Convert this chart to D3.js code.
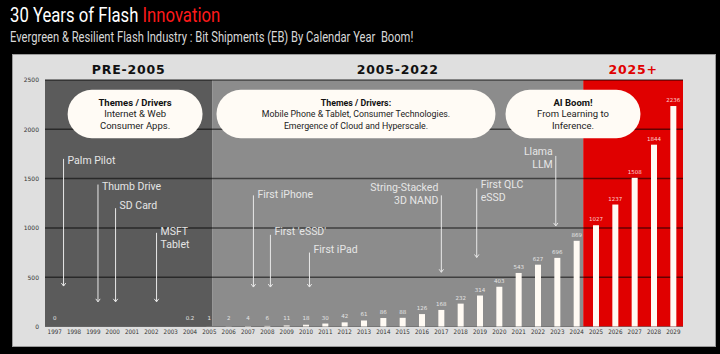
<!DOCTYPE html>
<html>
<head>
<meta charset="utf-8">
<script src="https://cdn.jsdelivr.net/npm/d3@7"></script>
<style>
  body { margin: 0; background: #000; }
  svg { display: block; }
</style>
</head>
<body>
<div id="chart-area"></div>
<script>
// data
var years = d3.range(1997, 2030).map(String);
var shipments = [0, null, null, null, null, null, null, 0.2, 1, 2, 4, 6, 11, 18, 30, 42, 61, 86, 88,
  126, 168, 232, 314, 403, 543, 627, 696, 869, 1027, 1237, 1508, 1844, 2236];
var yTicks = [0, 500, 1000, 1500, 2000, 2500];

// eras: label, start year, end year (fractional years)
var eraNames = ["PRE-2005", "2005-2022", "2025+"];
var eraStart = [1996.5, 2005.16, 2024.34];
var eraEnd = [2005.16, 2024.34, 2029.5];
var eraFill = ["#5b5b5b", "#8c8c8c", "#e00000"];

// theme bubbles
var bubbleTitles = ["Themes / Drivers", "Themes / Drivers:", "AI Boom!"];
var bubbleLines = [
  ["Internet & Web", "Consumer Apps."],
  ["Mobile Phone & Tablet, Consumer Technologies.", "Emergence of Cloud and Hyperscale."],
  ["From Learning to", "Inference."]
];
var bubbleFrom = [1997.67, 2005.37, 2020.32];
var bubbleTo = [2004.65, 2019.8, 2027.3];

// milestone annotations: text, year of the arrow, top value, arrow tip value, label value, side
var noteText = [["Palm Pilot"], ["Thumb Drive"], ["SD Card"], ["MSFT", "Tablet"], ["First iPhone"],
  ["First 'eSSD'"], ["First iPad"], ["String-Stacked", "3D NAND"], ["First QLC", "eSSD"], ["Llama", "LLM"]];
var noteYear = [1997.46, 1999.24, 2000.15, 2002.27, 2007.28, 2008.16, 2010.18, 2017.0, 2018.83, 2022.92];
var noteTop = [1700, 1440, 1200, 950, 1330, 930, 750, 1330, 1400, 1730];
var noteTip = [410, 250, 250, 250, 400, 400, 400, 550, 700, 1020];
var noteLabel = [1690, 1430, 1230, 970, 1340, 970, 790, 1410, 1450, 1780];
var noteSide = ["r", "r", "r", "r", "r", "r", "r", "l", "r", "l"];

var W = 720, H = 354;
var svg = d3.select("#chart-area").append("svg")
    .attr("width", W)
    .attr("height", H);

svg.append("rect").attr("width", W).attr("height", H).attr("fill", "#000");

// titles (squeezed a bit to get the narrow look of the original font)
var title = svg.append("text")
    .attr("transform", "translate(10,22) scale(0.795,1)")
    .attr("font-family", "Roboto, sans-serif")
    .attr("font-size", 21)
    .attr("fill", "#fff");
title.append("tspan").text("30 Years of Flash ");
title.append("tspan").attr("fill", "#ff1a1a").text("Innovation");

svg.append("text")
    .attr("transform", "translate(10,42) scale(0.8,1)")
    .attr("font-family", "Roboto, sans-serif")
    .attr("font-size", 14)
    .attr("fill", "#d8d8d8")
    .style("white-space", "pre")
    .text("Evergreen & Resilient Flash Industry : Bit Shipments (EB) By Calendar Year  Boom!");

// light panel
svg.append("rect")
    .attr("x", 12.5).attr("y", 54.5)
    .attr("width", 703).attr("height", 292)
    .attr("fill", "#dfdfdf")
    .attr("stroke", "#9a9a9a");

var plotLeft = 45, plotRight = 683, plotTop = 80, plotBottom = 326.5;

var x = d3.scaleBand()
    .domain(years)
    .range([plotLeft, plotRight])
    .paddingInner(0.69)
    .paddingOuter(0.345);

var step = (plotRight - plotLeft) / years.length;
var xYear = d3.scaleLinear()
    .domain([1997, 2029])
    .range([plotLeft + step / 2, plotRight - step / 2]);

var y = d3.scaleLinear()
    .domain([0, 2500])
    .range([plotBottom, plotTop]);

// era backgrounds
eraNames.forEach((name, i) => {
    var x0 = Math.max(plotLeft, xYear(eraStart[i]));
    var x1 = Math.min(plotRight, xYear(eraEnd[i]));
    svg.append("rect")
        .attr("x", x0).attr("y", plotTop)
        .attr("width", x1 - x0).attr("height", plotBottom - plotTop)
        .attr("fill", eraFill[i]);
    svg.append("text")
        .attr("x", (x0 + x1) / 2).attr("y", 74)
        .attr("text-anchor", "middle")
        .attr("font-family", "DejaVu Sans, sans-serif")
        .attr("font-weight", "bold")
        .attr("font-size", 12.5)
        .attr("letter-spacing", 0.8)
        .attr("fill", i == 2 ? "#e00000" : "#111")
        .text(name);
});

// grid lines
svg.selectAll(".grid")
    .data(yTicks.slice(1))
    .enter()
    .append("line")
    .attr("x1", plotLeft).attr("x2", plotRight)
    .attr("y1", d => y(d)).attr("y2", d => y(d))
    .attr("stroke", "#000")
    .attr("stroke-opacity", 0.55)
    .attr("stroke-width", 1.5);

svg.append("line")
    .attr("x1", plotLeft).attr("x2", plotRight)
    .attr("y1", plotBottom).attr("y2", plotBottom)
    .attr("stroke", "#000").attr("stroke-opacity", 0.35);

// axes
var yAxis = svg.append("g")
    .attr("transform", `translate(${plotLeft - 6},0)`)
    .call(d3.axisLeft(y).tickValues(yTicks).tickFormat(d3.format("d")).tickSize(0).tickPadding(0));
yAxis.select(".domain").remove();
yAxis.selectAll("text")
    .attr("font-family", "DejaVu Sans, sans-serif")
    .attr("font-size", 6)
    .attr("fill", "#333");

var xAxis = svg.append("g")
    .attr("transform", `translate(0,${plotBottom + 3})`)
    .call(d3.axisBottom(x).tickSize(0).tickPadding(0));
xAxis.select(".domain").remove();
xAxis.selectAll("text")
    .attr("font-family", "DejaVu Sans Condensed, sans-serif")
    .attr("font-size", 6.2)
    .attr("fill", "#333");

// bars
var rows = years.map((yr, i) => ({ year: yr, value: shipments[i] }))
    .filter(d => d.value != null);

svg.selectAll(".bar")
    .data(rows)
    .enter()
    .append("rect")
    .attr("x", d => x(d.year))
    .attr("y", d => y(d.value))
    .attr("width", x.bandwidth())
    .attr("height", d => plotBottom - y(d.value))
    .attr("fill", "#fffaf3");

svg.selectAll(".val")
    .data(rows)
    .enter()
    .append("text")
    .attr("x", d => x(d.year) + x.bandwidth() / 2)
    .attr("y", d => Math.min(y(d.value) - 4, plotBottom - 7))
    .attr("text-anchor", "middle")
    .attr("font-family", "DejaVu Sans, sans-serif")
    .attr("font-size", 5.5)
    .attr("fill", d => +d.year >= 2025 ? "#ffd0d0" : "#e4e4e4")
    .text(d => d.value);

// bubbles
bubbleTitles.forEach((t, i) => {
    var x0 = xYear(bubbleFrom[i]), x1 = xYear(bubbleTo[i]);
    var y0 = y(2400), y1 = y(1910);
    var cx = (x0 + x1) / 2;
    svg.append("rect")
        .attr("x", x0).attr("y", y0)
        .attr("width", x1 - x0).attr("height", y1 - y0)
        .attr("rx", (y1 - y0) / 2)
        .attr("fill", "#fffbf5");
    var fs = i == 1 ? 8.8 : 9.5;
    svg.append("text")
        .attr("x", cx).attr("y", y0 + 16)
        .attr("text-anchor", "middle")
        .attr("font-family", "Roboto, sans-serif")
        .attr("font-weight", "bold")
        .attr("font-size", fs)
        .attr("fill", "#111")
        .text(t);
    bubbleLines[i].forEach((ln, j) => {
        svg.append("text")
            .attr("x", cx).attr("y", y0 + 16 + 11.5 * (j + 1))
            .attr("text-anchor", "middle")
            .attr("font-family", "Roboto, sans-serif")
            .attr("font-size", fs)
            .attr("fill", "#222")
            .text(ln);
    });
});

// milestone arrows
noteText.forEach((lines, i) => {
    var lx = xYear(noteYear[i]);
    svg.append("line")
        .attr("x1", lx).attr("x2", lx)
        .attr("y1", y(noteTop[i])).attr("y2", y(noteTip[i]))
        .attr("stroke", "#e8e8e8")
        .attr("stroke-width", 1);
    var ty = y(noteTip[i]);
    svg.append("path")
        .attr("d", `M${lx - 2.2},${ty - 3}L${lx},${ty}L${lx + 2.2},${ty - 3}`)
        .attr("fill", "none")
        .attr("stroke", "#e8e8e8")
        .attr("stroke-width", 1);
    var side = noteSide[i];
    lines.forEach((ln, j) => {
        svg.append("text")
            .attr("x", side == "r" ? lx + 4 : lx - 3)
            .attr("y", y(noteLabel[i]) + 4 + j * 13)
            .attr("text-anchor", side == "r" ? "start" : "end")
            .attr("font-family", "Roboto, sans-serif")
            .attr("font-size", 10.5)
            .attr("fill", "#e6e6e6")
            .text(ln);
    });
});
</script>
</body>
</html>
